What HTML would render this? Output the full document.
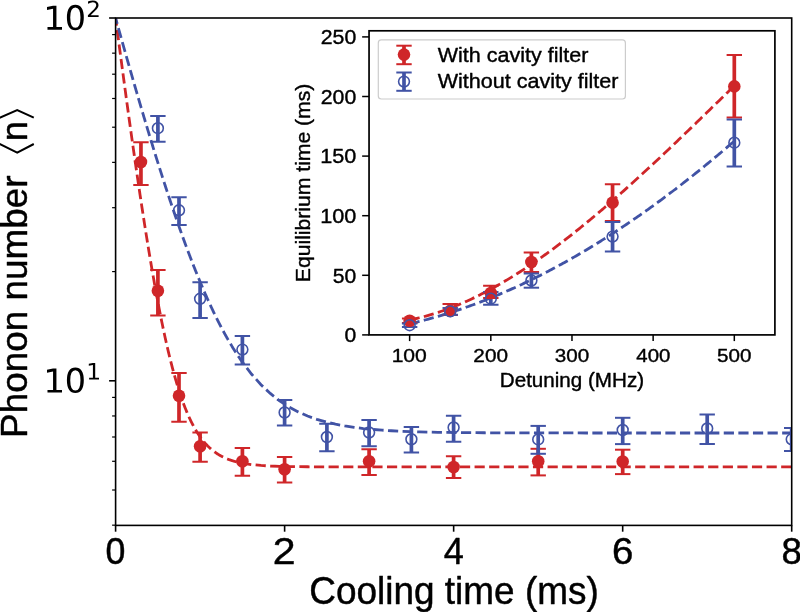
<!DOCTYPE html><html><head><meta charset="utf-8"><style>html,body{margin:0;padding:0;background:#fff;width:800px;height:612px;overflow:hidden}svg{display:block;will-change:transform}</style></head><body>
<svg width="800" height="612" viewBox="0 0 800 612">
<rect width="800" height="612" fill="#fff"/>
<defs><clipPath id="cm"><rect x="115.6" y="18.0" width="676.1" height="507.4"/></clipPath><clipPath id="ci"><rect x="369.05" y="30.8" width="405.84999999999997" height="304.09999999999997"/></clipPath></defs>
<g clip-path="url(#cm)">
<polyline points="115.60,18.00 115.92,20.43 116.24,22.85 116.55,25.27 116.87,27.69 117.19,30.10 117.51,32.52 117.82,34.93 118.14,37.33 118.46,39.74 118.78,42.14 119.09,44.54 119.41,46.94 119.73,49.33 120.05,51.73 120.37,54.12 120.68,56.50 121.00,58.89 121.32,61.27 121.64,63.64 121.95,66.02 122.27,68.39 122.59,70.76 122.91,73.12 123.23,75.49 123.54,77.85 123.86,80.20 124.18,82.55 124.50,84.90 124.81,87.25 125.13,89.59 125.45,91.93 125.77,94.26 126.08,96.60 126.40,98.92 126.72,101.25 127.04,103.57 127.36,105.89 127.67,108.20 127.99,110.51 128.31,112.81 128.63,115.11 128.94,117.41 129.26,119.71 129.58,121.99 129.90,124.28 130.21,126.56 130.53,128.84 130.85,131.11 131.17,133.37 131.49,135.64 131.80,137.90 132.12,140.15 132.44,142.40 132.76,144.64 133.07,146.88 133.39,149.12 133.71,151.35 134.03,153.57 134.35,155.80 134.66,158.01 134.98,160.22 135.30,162.43 135.62,164.63 135.93,166.82 136.25,169.01 136.57,171.19 136.89,173.37 137.20,175.54 137.52,177.71 137.84,179.87 138.16,182.03 138.48,184.18 138.79,186.32 139.11,188.46 139.43,190.59 139.75,192.72 140.06,194.84 140.38,196.96 140.70,199.06 141.02,201.17 141.34,203.26 141.65,205.35 141.97,207.43 142.29,209.51 142.61,211.58 142.92,213.64 143.24,215.70 143.56,217.74 143.88,219.79 144.19,221.82 144.51,223.85 144.83,225.87 145.15,227.89 145.47,229.89 145.78,231.89 146.10,233.88 146.42,235.87 146.74,237.85 147.05,239.82 147.37,241.78 147.69,243.73 148.01,245.68 148.32,247.62 148.64,249.55 148.96,251.47 149.28,253.39 149.60,255.29 149.91,257.19 150.23,259.08 150.55,260.97 150.87,262.84 151.18,264.71 151.50,266.56 151.82,268.41 152.14,270.25 152.46,272.09 152.77,273.91 153.09,275.72 153.41,277.53 153.73,279.33 154.04,281.11 154.36,282.89 154.68,284.66 155.00,286.42 155.31,288.17 155.63,289.92 155.95,291.65 156.27,293.37 156.59,295.09 156.90,296.79 157.22,298.49 157.54,300.18 157.86,301.85 158.17,303.52 158.49,305.18 158.81,306.82 159.13,308.46 159.44,310.09 159.76,311.71 160.08,313.32 160.40,314.92 160.72,316.51 161.03,318.08 161.35,319.65 161.67,321.21 161.99,322.76 162.30,324.30 162.62,325.83 162.94,327.35 163.26,328.85 163.58,330.35 163.89,331.84 164.21,333.32 164.53,334.78 164.85,336.24 165.16,337.69 165.48,339.12 165.80,340.55 166.12,341.96 166.43,343.37 166.75,344.76 167.07,346.15 167.39,347.52 167.71,348.88 168.02,350.24 168.34,351.58 168.66,352.91 168.98,354.23 169.29,355.54 169.61,356.84 169.93,358.13 170.25,359.41 170.56,360.68 170.88,361.93 171.20,363.18 171.52,364.42 171.84,365.65 172.15,366.86 172.47,368.07 172.79,369.26 173.11,370.45 173.42,371.62 173.74,372.78 174.06,373.94 174.38,375.08 174.70,376.21 175.01,377.33 175.33,378.44 175.65,379.54 175.97,380.64 176.28,381.72 176.60,382.79 176.92,383.85 177.24,384.90 177.55,385.94 177.87,386.97 178.19,387.99 178.51,389.00 178.83,390.00 179.14,390.99 179.46,391.97 179.78,392.93 180.10,393.89 180.41,394.84 180.73,395.79 181.05,396.72 181.37,397.64 181.68,398.55 182.00,399.45 182.32,400.34 182.64,401.22 182.96,402.10 183.27,402.96 183.59,403.82 183.91,404.66 184.23,405.50 184.54,406.32 184.86,407.14 185.18,407.95 185.50,408.75 185.82,409.54 186.13,410.32 186.45,411.09 186.77,411.86 187.09,412.61 187.40,413.36 187.72,414.10 188.04,414.82 188.36,415.54 188.67,416.26 188.99,416.96 189.31,417.66 189.63,418.34 189.95,419.02 190.26,419.69 190.58,420.36 190.90,421.01 191.22,421.66 191.53,422.30 191.85,422.93 192.17,423.55 192.49,424.17 192.81,424.77 193.12,425.37 193.44,425.97 193.76,426.55 194.08,427.13 194.39,427.70 194.71,428.27 195.03,428.82 195.35,429.37 195.66,429.91 195.98,430.45 196.30,430.98 196.62,431.50 196.94,432.01 197.25,432.52 197.57,433.02 197.89,433.52 198.21,434.01 198.52,434.49 198.84,434.96 199.16,435.43 199.48,435.90 199.79,436.35 200.11,436.81 200.43,437.25 200.75,437.69 201.07,438.12 201.38,438.55 201.70,438.97 202.02,439.39 202.34,439.80 202.65,440.20 202.97,440.60 203.29,440.99 203.61,441.38 203.93,441.76 204.24,442.14 204.56,442.51 204.88,442.88 205.20,443.24 205.51,443.60 205.83,443.95 206.15,444.29 206.47,444.64 206.78,444.97 207.10,445.30 207.42,445.63 207.74,445.96 208.06,446.27 208.37,446.59 208.69,446.90 209.01,447.20 209.33,447.50 209.64,447.80 209.96,448.09 210.28,448.38 210.60,448.66 210.91,448.94 211.23,449.22 211.55,449.49 211.87,449.76 212.19,450.02 212.50,450.28 212.82,450.53 213.14,450.79 213.46,451.04 213.77,451.28 214.09,451.52 214.41,451.76 214.73,451.99 215.05,452.22 215.36,452.45 215.68,452.68 216.00,452.90 216.32,453.11 216.63,453.33 216.95,453.54 217.27,453.75 217.59,453.95 217.90,454.15 218.22,454.35 218.54,454.55 218.86,454.74 219.18,454.93 219.49,455.12 219.81,455.30 220.13,455.48 220.45,455.66 220.76,455.84 221.08,456.01 221.40,456.18 221.72,456.35 222.03,456.51 222.35,456.68 222.67,456.84 222.99,457.00 223.31,457.15 223.62,457.31 223.94,457.46 224.26,457.60 224.58,457.75 224.89,457.90 225.21,458.04 225.53,458.18 225.85,458.31 226.17,458.45 226.48,458.58 226.80,458.72 227.12,458.84 227.44,458.97 227.75,459.10 228.07,459.22 228.39,459.34 228.71,459.46 229.02,459.58 229.34,459.70 229.66,459.81 229.98,459.92 230.30,460.03 230.61,460.14 230.93,460.25 231.25,460.36 231.57,460.46 231.88,460.56 232.20,460.66 232.52,460.76 232.84,460.86 233.15,460.96 233.47,461.05 233.79,461.14 234.11,461.23 234.43,461.32 234.74,461.41 235.06,461.50 235.38,461.59 235.70,461.67 236.01,461.76 236.33,461.84 236.65,461.92 236.97,462.00 237.29,462.08 237.60,462.15 237.92,462.23 238.24,462.30 238.56,462.38 238.87,462.45 239.19,462.52 239.51,462.59 239.83,462.66 240.14,462.73 240.46,462.79 240.78,462.86 241.10,462.92 241.42,462.99 241.73,463.05 242.05,463.11 242.37,463.17 251.68,464.58 260.99,465.46 270.30,466.01 279.61,466.35 288.92,466.56 298.23,466.69 307.54,466.77 316.85,466.82 326.17,466.85 335.48,466.87 344.79,466.88 354.10,466.89 363.41,466.89 372.72,466.90 382.03,466.90 391.34,466.90 400.65,466.90 409.96,466.90 419.27,466.90 428.58,466.90 437.89,466.90 447.20,466.90 456.51,466.90 465.83,466.90 475.14,466.90 484.45,466.90 493.76,466.90 503.07,466.90 512.38,466.90 521.69,466.90 531.00,466.90 540.31,466.90 549.62,466.90 558.93,466.90 568.24,466.90 577.55,466.90 586.86,466.90 596.18,466.90 605.49,466.90 614.80,466.90 624.11,466.90 633.42,466.90 642.73,466.90 652.04,466.90 661.35,466.90 670.66,466.90 679.97,466.90 689.28,466.90 698.59,466.90 707.90,466.90 717.21,466.90 726.53,466.90 735.84,466.90 745.15,466.90 754.46,466.90 763.77,466.90 773.08,466.90 782.39,466.90 791.70,466.90" fill="none" stroke="#cf2629" stroke-width="2.8" stroke-dasharray="10.2 4.4" stroke-dashoffset="2.5"/>
<polyline points="115.60,18.00 115.92,19.15 116.24,20.29 116.55,21.43 116.87,22.58 117.19,23.72 117.51,24.86 117.82,26.00 118.14,27.14 118.46,28.28 118.78,29.42 119.09,30.56 119.41,31.70 119.73,32.83 120.05,33.97 120.37,35.11 120.68,36.24 121.00,37.38 121.32,38.51 121.64,39.64 121.95,40.77 122.27,41.91 122.59,43.04 122.91,44.17 123.23,45.29 123.54,46.42 123.86,47.55 124.18,48.68 124.50,49.80 124.81,50.93 125.13,52.05 125.45,53.18 125.77,54.30 126.08,55.42 126.40,56.54 126.72,57.66 127.04,58.78 127.36,59.90 127.67,61.02 127.99,62.14 128.31,63.25 128.63,64.37 128.94,65.48 129.26,66.60 129.58,67.71 129.90,68.82 130.21,69.93 130.53,71.04 130.85,72.15 131.17,73.26 131.49,74.37 131.80,75.48 132.12,76.58 132.44,77.69 132.76,78.79 133.07,79.90 133.39,81.00 133.71,82.10 134.03,83.20 134.35,84.30 134.66,85.40 134.98,86.50 135.30,87.59 135.62,88.69 135.93,89.78 136.25,90.88 136.57,91.97 136.89,93.06 137.20,94.15 137.52,95.24 137.84,96.33 138.16,97.42 138.48,98.51 138.79,99.59 139.11,100.68 139.43,101.76 139.75,102.84 140.06,103.92 140.38,105.01 140.70,106.08 141.02,107.16 141.34,108.24 141.65,109.32 141.97,110.39 142.29,111.47 142.61,112.54 142.92,113.61 143.24,114.68 143.56,115.75 143.88,116.82 144.19,117.89 144.51,118.96 144.83,120.02 145.15,121.09 145.47,122.15 145.78,123.21 146.10,124.27 146.42,125.33 146.74,126.39 147.05,127.45 147.37,128.50 147.69,129.56 148.01,130.61 148.32,131.66 148.64,132.71 148.96,133.76 149.28,134.81 149.60,135.86 149.91,136.91 150.23,137.95 150.55,138.99 150.87,140.04 151.18,141.08 151.50,142.12 151.82,143.16 152.14,144.19 152.46,145.23 152.77,146.26 153.09,147.30 153.41,148.33 153.73,149.36 154.04,150.39 154.36,151.42 154.68,152.45 155.00,153.47 155.31,154.49 155.63,155.52 155.95,156.54 156.27,157.56 156.59,158.58 156.90,159.59 157.22,160.61 157.54,161.62 157.86,162.64 158.17,163.65 158.49,164.66 158.81,165.67 159.13,166.67 159.44,167.68 159.76,168.68 160.08,169.69 160.40,170.69 160.72,171.69 161.03,172.69 161.35,173.68 161.67,174.68 161.99,175.67 162.30,176.66 162.62,177.65 162.94,178.64 163.26,179.63 163.58,180.62 163.89,181.60 164.21,182.59 164.53,183.57 164.85,184.55 165.16,185.52 165.48,186.50 165.80,187.48 166.12,188.45 166.43,189.42 166.75,190.39 167.07,191.36 167.39,192.33 167.71,193.29 168.02,194.26 168.34,195.22 168.66,196.18 168.98,197.14 169.29,198.09 169.61,199.05 169.93,200.00 170.25,200.96 170.56,201.91 170.88,202.85 171.20,203.80 171.52,204.75 171.84,205.69 172.15,206.63 172.47,207.57 172.79,208.51 173.11,209.45 173.42,210.38 173.74,211.31 174.06,212.24 174.38,213.17 174.70,214.10 175.01,215.03 175.33,215.95 175.65,216.87 175.97,217.79 176.28,218.71 176.60,219.63 176.92,220.54 177.24,221.45 177.55,222.36 177.87,223.27 178.19,224.18 178.51,225.08 178.83,225.99 179.14,226.89 179.46,227.79 179.78,228.69 180.10,229.58 180.41,230.48 180.73,231.37 181.05,232.26 181.37,233.15 181.68,234.03 182.00,234.92 182.32,235.80 182.64,236.68 182.96,237.56 183.27,238.43 183.59,239.31 183.91,240.18 184.23,241.05 184.54,241.92 184.86,242.78 185.18,243.65 185.50,244.51 185.82,245.37 186.13,246.23 186.45,247.08 186.77,247.94 187.09,248.79 187.40,249.64 187.72,250.48 188.04,251.33 188.36,252.17 188.67,253.01 188.99,253.85 189.31,254.69 189.63,255.53 189.95,256.36 190.26,257.19 190.58,258.02 190.90,258.84 191.22,259.67 191.53,260.49 191.85,261.31 192.17,262.13 192.49,262.95 192.81,263.76 193.12,264.57 193.44,265.38 193.76,266.19 194.08,266.99 194.39,267.79 194.71,268.59 195.03,269.39 195.35,270.19 195.66,270.98 195.98,271.77 196.30,272.56 196.62,273.35 196.94,274.14 197.25,274.92 197.57,275.70 197.89,276.48 198.21,277.25 198.52,278.03 198.84,278.80 199.16,279.57 199.48,280.33 199.79,281.10 200.11,281.86 200.43,282.62 200.75,283.38 201.07,284.13 201.38,284.89 201.70,285.64 202.02,286.39 202.34,287.13 202.65,287.88 202.97,288.62 203.29,289.36 203.61,290.09 203.93,290.83 204.24,291.56 204.56,292.29 204.88,293.02 205.20,293.74 205.51,294.47 205.83,295.19 206.15,295.91 206.47,296.62 206.78,297.34 207.10,298.05 207.42,298.76 207.74,299.46 208.06,300.17 208.37,300.87 208.69,301.57 209.01,302.26 209.33,302.96 209.64,303.65 209.96,304.34 210.28,305.03 210.60,305.71 210.91,306.40 211.23,307.08 211.55,307.75 211.87,308.43 212.19,309.10 212.50,309.77 212.82,310.44 213.14,311.11 213.46,311.77 213.77,312.43 214.09,313.09 214.41,313.75 214.73,314.40 215.05,315.05 215.36,315.70 215.68,316.35 216.00,316.99 216.32,317.63 216.63,318.27 216.95,318.91 217.27,319.55 217.59,320.18 217.90,320.81 218.22,321.44 218.54,322.06 218.86,322.68 219.18,323.30 219.49,323.92 219.81,324.54 220.13,325.15 220.45,325.76 220.76,326.37 221.08,326.97 221.40,327.58 221.72,328.18 222.03,328.77 222.35,329.37 222.67,329.96 222.99,330.56 223.31,331.14 223.62,331.73 223.94,332.31 224.26,332.90 224.58,333.48 224.89,334.05 225.21,334.63 225.53,335.20 225.85,335.77 226.17,336.33 226.48,336.90 226.80,337.46 227.12,338.02 227.44,338.58 227.75,339.13 228.07,339.69 228.39,340.24 228.71,340.78 229.02,341.33 229.34,341.87 229.66,342.41 229.98,342.95 230.30,343.49 230.61,344.02 230.93,344.55 231.25,345.08 231.57,345.61 231.88,346.13 232.20,346.65 232.52,347.17 232.84,347.69 233.15,348.21 233.47,348.72 233.79,349.23 234.11,349.74 234.43,350.24 234.74,350.74 235.06,351.25 235.38,351.74 235.70,352.24 236.01,352.73 236.33,353.23 236.65,353.71 236.97,354.20 237.29,354.69 237.60,355.17 237.92,355.65 238.24,356.13 238.56,356.60 238.87,357.07 239.19,357.54 239.51,358.01 239.83,358.48 240.14,358.94 240.46,359.40 240.78,359.86 241.10,360.32 241.42,360.78 241.73,361.23 242.05,361.68 242.37,362.13 251.68,374.29 260.99,384.68 270.30,393.45 279.61,400.79 288.92,406.88 298.23,411.90 307.54,416.00 316.85,419.34 326.17,422.05 335.48,424.23 344.79,425.99 354.10,427.40 363.41,428.53 372.72,429.44 382.03,430.16 391.34,430.74 400.65,431.20 409.96,431.57 419.27,431.86 428.58,432.09 437.89,432.28 447.20,432.43 456.51,432.54 465.83,432.64 475.14,432.71 484.45,432.77 493.76,432.82 503.07,432.85 512.38,432.88 521.69,432.91 531.00,432.93 540.31,432.94 549.62,432.95 558.93,432.96 568.24,432.97 577.55,432.97 586.86,432.98 596.18,432.98 605.49,432.99 614.80,432.99 624.11,432.99 633.42,432.99 642.73,432.99 652.04,432.99 661.35,433.00 670.66,433.00 679.97,433.00 689.28,433.00 698.59,433.00 707.90,433.00 717.21,433.00 726.53,433.00 735.84,433.00 745.15,433.00 754.46,433.00 763.77,433.00 773.08,433.00 782.39,433.00 791.70,433.00" fill="none" stroke="#4153a5" stroke-width="2.8" stroke-dasharray="10.2 4.4" stroke-dashoffset="4.2"/>
<line x1="140.95" y1="142.2" x2="140.95" y2="185" stroke="#cf2629" stroke-width="3.7"/><line x1="133.25" y1="142.2" x2="148.65" y2="142.2" stroke="#cf2629" stroke-width="2.0"/><line x1="133.25" y1="185" x2="148.65" y2="185" stroke="#cf2629" stroke-width="2.0"/>
<line x1="157.9" y1="269.9" x2="157.9" y2="315.5" stroke="#cf2629" stroke-width="3.7"/><line x1="150.20" y1="269.9" x2="165.60" y2="269.9" stroke="#cf2629" stroke-width="2.0"/><line x1="150.20" y1="315.5" x2="165.60" y2="315.5" stroke="#cf2629" stroke-width="2.0"/>
<line x1="179" y1="373" x2="179" y2="421.75" stroke="#cf2629" stroke-width="3.7"/><line x1="171.30" y1="373" x2="186.70" y2="373" stroke="#cf2629" stroke-width="2.0"/><line x1="171.30" y1="421.75" x2="186.70" y2="421.75" stroke="#cf2629" stroke-width="2.0"/>
<line x1="200.1" y1="432.5" x2="200.1" y2="461.75" stroke="#cf2629" stroke-width="3.7"/><line x1="192.40" y1="432.5" x2="207.80" y2="432.5" stroke="#cf2629" stroke-width="2.0"/><line x1="192.40" y1="461.75" x2="207.80" y2="461.75" stroke="#cf2629" stroke-width="2.0"/>
<line x1="242.4" y1="448" x2="242.4" y2="475.75" stroke="#cf2629" stroke-width="3.7"/><line x1="234.70" y1="448" x2="250.10" y2="448" stroke="#cf2629" stroke-width="2.0"/><line x1="234.70" y1="475.75" x2="250.10" y2="475.75" stroke="#cf2629" stroke-width="2.0"/>
<line x1="284.6" y1="457" x2="284.6" y2="482.5" stroke="#cf2629" stroke-width="3.7"/><line x1="276.90" y1="457" x2="292.30" y2="457" stroke="#cf2629" stroke-width="2.0"/><line x1="276.90" y1="482.5" x2="292.30" y2="482.5" stroke="#cf2629" stroke-width="2.0"/>
<line x1="369.1" y1="449.25" x2="369.1" y2="475" stroke="#cf2629" stroke-width="3.7"/><line x1="361.40" y1="449.25" x2="376.80" y2="449.25" stroke="#cf2629" stroke-width="2.0"/><line x1="361.40" y1="475" x2="376.80" y2="475" stroke="#cf2629" stroke-width="2.0"/>
<line x1="453.6" y1="456.25" x2="453.6" y2="478" stroke="#cf2629" stroke-width="3.7"/><line x1="445.90" y1="456.25" x2="461.30" y2="456.25" stroke="#cf2629" stroke-width="2.0"/><line x1="445.90" y1="478" x2="461.30" y2="478" stroke="#cf2629" stroke-width="2.0"/>
<line x1="538.2" y1="448.8" x2="538.2" y2="475.4" stroke="#cf2629" stroke-width="3.7"/><line x1="530.50" y1="448.8" x2="545.90" y2="448.8" stroke="#cf2629" stroke-width="2.0"/><line x1="530.50" y1="475.4" x2="545.90" y2="475.4" stroke="#cf2629" stroke-width="2.0"/>
<line x1="622.7" y1="449.7" x2="622.7" y2="474.1" stroke="#cf2629" stroke-width="3.7"/><line x1="615.00" y1="449.7" x2="630.40" y2="449.7" stroke="#cf2629" stroke-width="2.0"/><line x1="615.00" y1="474.1" x2="630.40" y2="474.1" stroke="#cf2629" stroke-width="2.0"/>
<line x1="157.9" y1="115.9" x2="157.9" y2="141.7" stroke="#4153a5" stroke-width="3.7"/><line x1="150.20" y1="115.9" x2="165.60" y2="115.9" stroke="#4153a5" stroke-width="2.0"/><line x1="150.20" y1="141.7" x2="165.60" y2="141.7" stroke="#4153a5" stroke-width="2.0"/>
<line x1="179" y1="197.3" x2="179" y2="225" stroke="#4153a5" stroke-width="3.7"/><line x1="171.30" y1="197.3" x2="186.70" y2="197.3" stroke="#4153a5" stroke-width="2.0"/><line x1="171.30" y1="225" x2="186.70" y2="225" stroke="#4153a5" stroke-width="2.0"/>
<line x1="200.1" y1="282.2" x2="200.1" y2="317.9" stroke="#4153a5" stroke-width="3.7"/><line x1="192.40" y1="282.2" x2="207.80" y2="282.2" stroke="#4153a5" stroke-width="2.0"/><line x1="192.40" y1="317.9" x2="207.80" y2="317.9" stroke="#4153a5" stroke-width="2.0"/>
<line x1="242.4" y1="336" x2="242.4" y2="364.5" stroke="#4153a5" stroke-width="3.7"/><line x1="234.70" y1="336" x2="250.10" y2="336" stroke="#4153a5" stroke-width="2.0"/><line x1="234.70" y1="364.5" x2="250.10" y2="364.5" stroke="#4153a5" stroke-width="2.0"/>
<line x1="284.6" y1="400" x2="284.6" y2="425.5" stroke="#4153a5" stroke-width="3.7"/><line x1="276.90" y1="400" x2="292.30" y2="400" stroke="#4153a5" stroke-width="2.0"/><line x1="276.90" y1="425.5" x2="292.30" y2="425.5" stroke="#4153a5" stroke-width="2.0"/>
<line x1="326.9" y1="423.75" x2="326.9" y2="451.25" stroke="#4153a5" stroke-width="3.7"/><line x1="319.20" y1="423.75" x2="334.60" y2="423.75" stroke="#4153a5" stroke-width="2.0"/><line x1="319.20" y1="451.25" x2="334.60" y2="451.25" stroke="#4153a5" stroke-width="2.0"/>
<line x1="369.1" y1="420" x2="369.1" y2="446.25" stroke="#4153a5" stroke-width="3.7"/><line x1="361.40" y1="420" x2="376.80" y2="420" stroke="#4153a5" stroke-width="2.0"/><line x1="361.40" y1="446.25" x2="376.80" y2="446.25" stroke="#4153a5" stroke-width="2.0"/>
<line x1="411.4" y1="427" x2="411.4" y2="452.5" stroke="#4153a5" stroke-width="3.7"/><line x1="403.70" y1="427" x2="419.10" y2="427" stroke="#4153a5" stroke-width="2.0"/><line x1="403.70" y1="452.5" x2="419.10" y2="452.5" stroke="#4153a5" stroke-width="2.0"/>
<line x1="453.6" y1="415.75" x2="453.6" y2="441.75" stroke="#4153a5" stroke-width="3.7"/><line x1="445.90" y1="415.75" x2="461.30" y2="415.75" stroke="#4153a5" stroke-width="2.0"/><line x1="445.90" y1="441.75" x2="461.30" y2="441.75" stroke="#4153a5" stroke-width="2.0"/>
<line x1="538.2" y1="425.9" x2="538.2" y2="453.8" stroke="#4153a5" stroke-width="3.7"/><line x1="530.50" y1="425.9" x2="545.90" y2="425.9" stroke="#4153a5" stroke-width="2.0"/><line x1="530.50" y1="453.8" x2="545.90" y2="453.8" stroke="#4153a5" stroke-width="2.0"/>
<line x1="622.7" y1="417.8" x2="622.7" y2="444.1" stroke="#4153a5" stroke-width="3.7"/><line x1="615.00" y1="417.8" x2="630.40" y2="417.8" stroke="#4153a5" stroke-width="2.0"/><line x1="615.00" y1="444.1" x2="630.40" y2="444.1" stroke="#4153a5" stroke-width="2.0"/>
<line x1="707.2" y1="414.5" x2="707.2" y2="444" stroke="#4153a5" stroke-width="3.7"/><line x1="699.50" y1="414.5" x2="714.90" y2="414.5" stroke="#4153a5" stroke-width="2.0"/><line x1="699.50" y1="444" x2="714.90" y2="444" stroke="#4153a5" stroke-width="2.0"/>
<line x1="791.7" y1="428" x2="791.7" y2="451" stroke="#4153a5" stroke-width="3.7"/><line x1="784.00" y1="428" x2="799.40" y2="428" stroke="#4153a5" stroke-width="2.0"/><line x1="784.00" y1="451" x2="799.40" y2="451" stroke="#4153a5" stroke-width="2.0"/>
<circle cx="140.95" cy="162" r="6.3" fill="#cf2629"/>
<circle cx="157.9" cy="290.7" r="6.3" fill="#cf2629"/>
<circle cx="179" cy="395.75" r="6.3" fill="#cf2629"/>
<circle cx="200.1" cy="446.25" r="6.3" fill="#cf2629"/>
<circle cx="242.4" cy="461.25" r="6.3" fill="#cf2629"/>
<circle cx="284.6" cy="469.25" r="6.3" fill="#cf2629"/>
<circle cx="369.1" cy="461.25" r="6.3" fill="#cf2629"/>
<circle cx="453.6" cy="467" r="6.3" fill="#cf2629"/>
<circle cx="538.2" cy="461.3" r="6.3" fill="#cf2629"/>
<circle cx="622.7" cy="461.5" r="6.3" fill="#cf2629"/>
<circle cx="157.9" cy="128.2" r="5.4" fill="none" stroke="#4153a5" stroke-width="1.6"/>
<circle cx="179" cy="210.3" r="5.4" fill="none" stroke="#4153a5" stroke-width="1.6"/>
<circle cx="200.1" cy="298.8" r="5.4" fill="none" stroke="#4153a5" stroke-width="1.6"/>
<circle cx="242.4" cy="349.6" r="5.4" fill="none" stroke="#4153a5" stroke-width="1.6"/>
<circle cx="284.6" cy="412.5" r="5.4" fill="none" stroke="#4153a5" stroke-width="1.6"/>
<circle cx="326.9" cy="437" r="5.4" fill="none" stroke="#4153a5" stroke-width="1.6"/>
<circle cx="369.1" cy="432.5" r="5.4" fill="none" stroke="#4153a5" stroke-width="1.6"/>
<circle cx="411.4" cy="439.25" r="5.4" fill="none" stroke="#4153a5" stroke-width="1.6"/>
<circle cx="453.6" cy="427.5" r="5.4" fill="none" stroke="#4153a5" stroke-width="1.6"/>
<circle cx="538.2" cy="439.4" r="5.4" fill="none" stroke="#4153a5" stroke-width="1.6"/>
<circle cx="622.7" cy="430" r="5.4" fill="none" stroke="#4153a5" stroke-width="1.6"/>
<circle cx="707.2" cy="428.5" r="5.4" fill="none" stroke="#4153a5" stroke-width="1.6"/>
<circle cx="791.7" cy="439.3" r="5.4" fill="none" stroke="#4153a5" stroke-width="1.6"/>
</g>
<rect x="115.6" y="18.0" width="676.10" height="507.40" fill="none" stroke="#000" stroke-width="1.6"/>
<line x1="115.60" y1="525.4" x2="115.60" y2="531.6999999999999" stroke="#000" stroke-width="1.6"/>
<line x1="284.62" y1="525.4" x2="284.62" y2="531.6999999999999" stroke="#000" stroke-width="1.6"/>
<line x1="453.65" y1="525.4" x2="453.65" y2="531.6999999999999" stroke="#000" stroke-width="1.6"/>
<line x1="622.68" y1="525.4" x2="622.68" y2="531.6999999999999" stroke="#000" stroke-width="1.6"/>
<line x1="791.70" y1="525.4" x2="791.70" y2="531.6999999999999" stroke="#000" stroke-width="1.6"/>
<line x1="109.1" y1="18.00" x2="115.6" y2="18.00" stroke="#000" stroke-width="1.6"/>
<line x1="109.1" y1="380.80" x2="115.6" y2="380.80" stroke="#000" stroke-width="1.6"/>
<line x1="112.1" y1="271.59" x2="115.6" y2="271.59" stroke="#000" stroke-width="1.2"/>
<line x1="112.1" y1="207.70" x2="115.6" y2="207.70" stroke="#000" stroke-width="1.2"/>
<line x1="112.1" y1="162.37" x2="115.6" y2="162.37" stroke="#000" stroke-width="1.2"/>
<line x1="112.1" y1="127.21" x2="115.6" y2="127.21" stroke="#000" stroke-width="1.2"/>
<line x1="112.1" y1="98.49" x2="115.6" y2="98.49" stroke="#000" stroke-width="1.2"/>
<line x1="112.1" y1="74.20" x2="115.6" y2="74.20" stroke="#000" stroke-width="1.2"/>
<line x1="112.1" y1="53.16" x2="115.6" y2="53.16" stroke="#000" stroke-width="1.2"/>
<line x1="112.1" y1="34.60" x2="115.6" y2="34.60" stroke="#000" stroke-width="1.2"/>
<line x1="112.1" y1="525.17" x2="115.6" y2="525.17" stroke="#000" stroke-width="1.2"/>
<line x1="112.1" y1="490.01" x2="115.6" y2="490.01" stroke="#000" stroke-width="1.2"/>
<line x1="112.1" y1="461.29" x2="115.6" y2="461.29" stroke="#000" stroke-width="1.2"/>
<line x1="112.1" y1="437.00" x2="115.6" y2="437.00" stroke="#000" stroke-width="1.2"/>
<line x1="112.1" y1="415.96" x2="115.6" y2="415.96" stroke="#000" stroke-width="1.2"/>
<line x1="112.1" y1="397.40" x2="115.6" y2="397.40" stroke="#000" stroke-width="1.2"/>
<path transform="matrix(0.01687 0 0 -0.01612 43.204 29.800)" d="M254 166H584V1305L225 1233V1417L582 1489H784V166H1114V0H254Z"/>
<path transform="matrix(0.01638 0 0 -0.01646 64.689 29.823)" d="M651 1360Q495 1360 417 1207Q339 1053 339 745Q339 438 417 284Q495 131 651 131Q808 131 886 284Q964 438 964 745Q964 1053 886 1207Q808 1360 651 1360ZM651 1520Q902 1520 1034 1322Q1167 1124 1167 745Q1167 367 1034 169Q902 -29 651 -29Q400 -29 267 169Q135 367 135 745Q135 1124 267 1322Q400 1520 651 1520Z"/>
<path transform="matrix(0.01129 0 0 -0.01102 86.207 17.100)" d="M393 166H1098V0H150V166Q265 285 463 485Q662 686 713 744Q810 853 848 928Q887 1004 887 1077Q887 1196 803 1271Q720 1346 586 1346Q491 1346 385 1313Q280 1280 160 1213V1417Q282 1466 388 1491Q494 1516 582 1516Q814 1516 952 1400Q1090 1284 1090 1090Q1090 998 1055 915Q1021 833 930 721Q905 692 771 553Q637 415 393 166Z"/>
<path transform="matrix(0.01687 0 0 -0.01612 43.204 392.600)" d="M254 166H584V1305L225 1233V1417L582 1489H784V166H1114V0H254Z"/>
<path transform="matrix(0.01638 0 0 -0.01646 64.689 392.623)" d="M651 1360Q495 1360 417 1207Q339 1053 339 745Q339 438 417 284Q495 131 651 131Q808 131 886 284Q964 438 964 745Q964 1053 886 1207Q808 1360 651 1360ZM651 1520Q902 1520 1034 1322Q1167 1124 1167 745Q1167 367 1034 169Q902 -29 651 -29Q400 -29 267 169Q135 367 135 745Q135 1124 267 1322Q400 1520 651 1520Z"/>
<path transform="matrix(0.01147 0 0 -0.01108 86.218 379.500)" d="M254 166H584V1305L225 1233V1417L582 1489H784V166H1114V0H254Z"/>
<polyline points="-2,118.6 17.2,110.1 33.8,117.7" fill="none" stroke="#000" stroke-width="2"/>
<polyline points="-2,143.2 17.2,152.6 33.8,144" fill="none" stroke="#000" stroke-width="2"/>
<rect x="369.05" y="30.8" width="405.85" height="304.10" fill="#fff"/>
<g clip-path="url(#ci)">
<polyline points="409.63,319.90 411.27,319.57 412.90,319.23 414.53,318.88 416.16,318.51 417.79,318.14 419.42,317.74 421.06,317.34 422.69,316.92 424.32,316.49 425.95,316.05 427.58,315.60 429.21,315.13 430.85,314.65 432.48,314.16 434.11,313.66 435.74,313.15 437.37,312.62 439.00,312.08 440.63,311.53 442.27,310.97 443.90,310.39 445.53,309.81 447.16,309.21 448.79,308.60 450.42,307.98 452.06,307.35 453.69,306.71 455.32,306.05 456.95,305.39 458.58,304.71 460.21,304.02 461.84,303.33 463.48,302.62 465.11,301.90 466.74,301.17 468.37,300.42 470.00,299.67 471.63,298.91 473.27,298.14 474.90,297.35 476.53,296.56 478.16,295.75 479.79,294.94 481.42,294.12 483.06,293.28 484.69,292.44 486.32,291.58 487.95,290.72 489.58,289.84 491.21,288.96 492.84,288.06 494.48,287.16 496.11,286.25 497.74,285.32 499.37,284.39 501.00,283.45 502.63,282.50 504.27,281.54 505.90,280.57 507.53,279.59 509.16,278.61 510.79,277.61 512.42,276.61 514.05,275.59 515.69,274.57 517.32,273.54 518.95,272.50 520.58,271.45 522.21,270.39 523.84,269.33 525.48,268.25 527.11,267.17 528.74,266.08 530.37,264.98 532.00,263.88 533.63,262.76 535.26,261.64 536.90,260.51 538.53,259.37 540.16,258.23 541.79,257.07 543.42,255.91 545.05,254.74 546.69,253.57 548.32,252.38 549.95,251.19 551.58,249.99 553.21,248.79 554.84,247.58 556.48,246.36 558.11,245.13 559.74,243.90 561.37,242.66 563.00,241.41 564.63,240.15 566.26,238.89 567.90,237.63 569.53,236.35 571.16,235.07 572.79,233.79 574.42,232.49 576.05,231.19 577.69,229.89 579.32,228.58 580.95,227.26 582.58,225.93 584.21,224.60 585.84,223.27 587.47,221.93 589.11,220.58 590.74,219.23 592.37,217.87 594.00,216.51 595.63,215.14 597.26,213.76 598.90,212.38 600.53,211.00 602.16,209.60 603.79,208.21 605.42,206.81 607.05,205.40 608.69,203.99 610.32,202.58 611.95,201.15 613.58,199.73 615.21,198.30 616.84,196.86 618.47,195.43 620.11,193.98 621.74,192.53 623.37,191.08 625.00,189.63 626.63,188.16 628.26,186.70 629.90,185.23 631.53,183.76 633.16,182.28 634.79,180.80 636.42,179.32 638.05,177.83 639.68,176.34 641.32,174.84 642.95,173.34 644.58,171.84 646.21,170.33 647.84,168.82 649.47,167.31 651.11,165.79 652.74,164.28 654.37,162.75 656.00,161.23 657.63,159.70 659.26,158.17 660.89,156.64 662.53,155.10 664.16,153.56 665.79,152.02 667.42,150.48 669.05,148.93 670.68,147.38 672.32,145.83 673.95,144.28 675.58,142.72 677.21,141.16 678.84,139.60 680.47,138.04 682.11,136.48 683.74,134.91 685.37,133.34 687.00,131.77 688.63,130.20 690.26,128.63 691.89,127.06 693.53,125.48 695.16,123.90 696.79,122.33 698.42,120.75 700.05,119.17 701.68,117.59 703.32,116.00 704.95,114.42 706.58,112.83 708.21,111.25 709.84,109.66 711.47,108.08 713.10,106.49 714.74,104.90 716.37,103.31 718.00,101.72 719.63,100.13 721.26,98.54 722.89,96.95 724.53,95.36 726.16,93.77 727.79,92.18 729.42,90.59 731.05,89.00 732.68,87.41 734.31,85.82" fill="none" stroke="#cf2629" stroke-width="2.8" stroke-dasharray="10.2 4.4"/>
<polyline points="409.63,323.82 411.27,323.44 412.90,323.05 414.53,322.66 416.16,322.26 417.79,321.86 419.42,321.45 421.06,321.03 422.69,320.61 424.32,320.18 425.95,319.75 427.58,319.31 429.21,318.87 430.85,318.42 432.48,317.96 434.11,317.50 435.74,317.03 437.37,316.55 439.00,316.07 440.63,315.59 442.27,315.10 443.90,314.60 445.53,314.10 447.16,313.59 448.79,313.08 450.42,312.56 452.06,312.03 453.69,311.50 455.32,310.96 456.95,310.42 458.58,309.87 460.21,309.32 461.84,308.76 463.48,308.20 465.11,307.63 466.74,307.05 468.37,306.47 470.00,305.88 471.63,305.29 473.27,304.69 474.90,304.08 476.53,303.47 478.16,302.86 479.79,302.24 481.42,301.61 483.06,300.98 484.69,300.34 486.32,299.70 487.95,299.05 489.58,298.39 491.21,297.73 492.84,297.07 494.48,296.40 496.11,295.72 497.74,295.04 499.37,294.35 501.00,293.66 502.63,292.96 504.27,292.25 505.90,291.54 507.53,290.83 509.16,290.11 510.79,289.38 512.42,288.65 514.05,287.91 515.69,287.17 517.32,286.42 518.95,285.67 520.58,284.91 522.21,284.15 523.84,283.38 525.48,282.60 527.11,281.82 528.74,281.04 530.37,280.24 532.00,279.45 533.63,278.65 535.26,277.84 536.90,277.03 538.53,276.21 540.16,275.38 541.79,274.56 543.42,273.72 545.05,272.88 546.69,272.04 548.32,271.19 549.95,270.33 551.58,269.47 553.21,268.61 554.84,267.73 556.48,266.86 558.11,265.98 559.74,265.09 561.37,264.20 563.00,263.30 564.63,262.40 566.26,261.49 567.90,260.57 569.53,259.66 571.16,258.73 572.79,257.80 574.42,256.87 576.05,255.93 577.69,254.98 579.32,254.03 580.95,253.08 582.58,252.12 584.21,251.15 585.84,250.18 587.47,249.21 589.11,248.23 590.74,247.24 592.37,246.25 594.00,245.25 595.63,244.25 597.26,243.24 598.90,242.23 600.53,241.22 602.16,240.19 603.79,239.17 605.42,238.13 607.05,237.10 608.69,236.05 610.32,235.01 611.95,233.95 613.58,232.90 615.21,231.83 616.84,230.77 618.47,229.69 620.11,228.62 621.74,227.53 623.37,226.45 625.00,225.35 626.63,224.25 628.26,223.15 629.90,222.04 631.53,220.93 633.16,219.81 634.79,218.69 636.42,217.56 638.05,216.43 639.68,215.29 641.32,214.15 642.95,213.00 644.58,211.85 646.21,210.69 647.84,209.53 649.47,208.36 651.11,207.19 652.74,206.01 654.37,204.83 656.00,203.64 657.63,202.45 659.26,201.25 660.89,200.05 662.53,198.85 664.16,197.63 665.79,196.42 667.42,195.20 669.05,193.97 670.68,192.74 672.32,191.50 673.95,190.26 675.58,189.02 677.21,187.77 678.84,186.51 680.47,185.25 682.11,183.99 683.74,182.72 685.37,181.45 687.00,180.17 688.63,178.88 690.26,177.60 691.89,176.30 693.53,175.00 695.16,173.70 696.79,172.39 698.42,171.08 700.05,169.77 701.68,168.44 703.32,167.12 704.95,165.79 706.58,164.45 708.21,163.11 709.84,161.77 711.47,160.42 713.10,159.06 714.74,157.70 716.37,156.34 718.00,154.97 719.63,153.60 721.26,152.22 722.89,150.84 724.53,149.45 726.16,148.06 727.79,146.66 729.42,145.26 731.05,143.86 732.68,142.45 734.31,141.03" fill="none" stroke="#4153a5" stroke-width="2.8" stroke-dasharray="10.2 4.4"/>
<line x1="409.63" y1="318.5" x2="409.63" y2="323" stroke="#cf2629" stroke-width="3.7"/><line x1="401.93" y1="318.5" x2="417.33" y2="318.5" stroke="#cf2629" stroke-width="2.0"/><line x1="401.93" y1="323" x2="417.33" y2="323" stroke="#cf2629" stroke-width="2.0"/>
<line x1="450.22" y1="304" x2="450.22" y2="315" stroke="#cf2629" stroke-width="3.7"/><line x1="442.52" y1="304" x2="457.92" y2="304" stroke="#cf2629" stroke-width="2.0"/><line x1="442.52" y1="315" x2="457.92" y2="315" stroke="#cf2629" stroke-width="2.0"/>
<line x1="490.81" y1="285.8" x2="490.81" y2="298" stroke="#cf2629" stroke-width="3.7"/><line x1="483.11" y1="285.8" x2="498.51" y2="285.8" stroke="#cf2629" stroke-width="2.0"/><line x1="483.11" y1="298" x2="498.51" y2="298" stroke="#cf2629" stroke-width="2.0"/>
<line x1="531.39" y1="252.5" x2="531.39" y2="272" stroke="#cf2629" stroke-width="3.7"/><line x1="523.69" y1="252.5" x2="539.09" y2="252.5" stroke="#cf2629" stroke-width="2.0"/><line x1="523.69" y1="272" x2="539.09" y2="272" stroke="#cf2629" stroke-width="2.0"/>
<line x1="612.56" y1="184.2" x2="612.56" y2="221.1" stroke="#cf2629" stroke-width="3.7"/><line x1="604.86" y1="184.2" x2="620.26" y2="184.2" stroke="#cf2629" stroke-width="2.0"/><line x1="604.86" y1="221.1" x2="620.26" y2="221.1" stroke="#cf2629" stroke-width="2.0"/>
<line x1="734.31" y1="55" x2="734.31" y2="117.5" stroke="#cf2629" stroke-width="3.7"/><line x1="726.61" y1="55" x2="742.01" y2="55" stroke="#cf2629" stroke-width="2.0"/><line x1="726.61" y1="117.5" x2="742.01" y2="117.5" stroke="#cf2629" stroke-width="2.0"/>
<line x1="409.63" y1="323.5" x2="409.63" y2="327" stroke="#4153a5" stroke-width="3.7"/><line x1="401.93" y1="323.5" x2="417.33" y2="323.5" stroke="#4153a5" stroke-width="2.0"/><line x1="401.93" y1="327" x2="417.33" y2="327" stroke="#4153a5" stroke-width="2.0"/>
<line x1="450.22" y1="308" x2="450.22" y2="314.7" stroke="#4153a5" stroke-width="3.7"/><line x1="442.52" y1="308" x2="457.92" y2="308" stroke="#4153a5" stroke-width="2.0"/><line x1="442.52" y1="314.7" x2="457.92" y2="314.7" stroke="#4153a5" stroke-width="2.0"/>
<line x1="490.81" y1="292" x2="490.81" y2="304.7" stroke="#4153a5" stroke-width="3.7"/><line x1="483.11" y1="292" x2="498.51" y2="292" stroke="#4153a5" stroke-width="2.0"/><line x1="483.11" y1="304.7" x2="498.51" y2="304.7" stroke="#4153a5" stroke-width="2.0"/>
<line x1="531.39" y1="273.5" x2="531.39" y2="287.7" stroke="#4153a5" stroke-width="3.7"/><line x1="523.69" y1="273.5" x2="539.09" y2="273.5" stroke="#4153a5" stroke-width="2.0"/><line x1="523.69" y1="287.7" x2="539.09" y2="287.7" stroke="#4153a5" stroke-width="2.0"/>
<line x1="612.56" y1="221.9" x2="612.56" y2="251.6" stroke="#4153a5" stroke-width="3.7"/><line x1="604.86" y1="221.9" x2="620.26" y2="221.9" stroke="#4153a5" stroke-width="2.0"/><line x1="604.86" y1="251.6" x2="620.26" y2="251.6" stroke="#4153a5" stroke-width="2.0"/>
<line x1="734.31" y1="119.5" x2="734.31" y2="166.6" stroke="#4153a5" stroke-width="3.7"/><line x1="726.61" y1="119.5" x2="742.01" y2="119.5" stroke="#4153a5" stroke-width="2.0"/><line x1="726.61" y1="166.6" x2="742.01" y2="166.6" stroke="#4153a5" stroke-width="2.0"/>
<circle cx="409.63" cy="320.7" r="6.3" fill="#cf2629"/>
<circle cx="450.22" cy="310.9" r="6.3" fill="#cf2629"/>
<circle cx="490.81" cy="293" r="6.3" fill="#cf2629"/>
<circle cx="531.39" cy="262" r="6.3" fill="#cf2629"/>
<circle cx="612.56" cy="202.65" r="6.3" fill="#cf2629"/>
<circle cx="734.31" cy="86.4" r="6.3" fill="#cf2629"/>
<circle cx="409.63" cy="325.2" r="5.4" fill="none" stroke="#4153a5" stroke-width="1.6"/>
<circle cx="450.22" cy="311.4" r="5.4" fill="none" stroke="#4153a5" stroke-width="1.6"/>
<circle cx="490.81" cy="298.7" r="5.4" fill="none" stroke="#4153a5" stroke-width="1.6"/>
<circle cx="531.39" cy="280.5" r="5.4" fill="none" stroke="#4153a5" stroke-width="1.6"/>
<circle cx="612.56" cy="236.6" r="5.4" fill="none" stroke="#4153a5" stroke-width="1.6"/>
<circle cx="734.31" cy="142.7" r="5.4" fill="none" stroke="#4153a5" stroke-width="1.6"/>
</g>
<rect x="369.05" y="30.8" width="405.85" height="304.10" fill="none" stroke="#000" stroke-width="1.7"/>
<line x1="409.63" y1="334.9" x2="409.63" y2="341.09999999999997" stroke="#000" stroke-width="1.5"/>
<line x1="490.81" y1="334.9" x2="490.81" y2="341.09999999999997" stroke="#000" stroke-width="1.5"/>
<line x1="571.98" y1="334.9" x2="571.98" y2="341.09999999999997" stroke="#000" stroke-width="1.5"/>
<line x1="653.14" y1="334.9" x2="653.14" y2="341.09999999999997" stroke="#000" stroke-width="1.5"/>
<line x1="734.31" y1="334.9" x2="734.31" y2="341.09999999999997" stroke="#000" stroke-width="1.5"/>
<line x1="362.15000000000003" y1="334.90" x2="369.05" y2="334.90" stroke="#000" stroke-width="1.5"/>
<line x1="362.15000000000003" y1="275.30" x2="369.05" y2="275.30" stroke="#000" stroke-width="1.5"/>
<line x1="362.15000000000003" y1="215.70" x2="369.05" y2="215.70" stroke="#000" stroke-width="1.5"/>
<line x1="362.15000000000003" y1="156.10" x2="369.05" y2="156.10" stroke="#000" stroke-width="1.5"/>
<line x1="362.15000000000003" y1="96.50" x2="369.05" y2="96.50" stroke="#000" stroke-width="1.5"/>
<line x1="362.15000000000003" y1="36.90" x2="369.05" y2="36.90" stroke="#000" stroke-width="1.5"/>
<rect x="378.3" y="39.9" width="247.1" height="59.1" rx="3" fill="#fff" fill-opacity="0.8" stroke="#cccccc" stroke-width="1.2"/>
<line x1="404" y1="45.7" x2="404" y2="64.2" stroke="#cf2629" stroke-width="3.7"/><line x1="396.30" y1="45.7" x2="411.70" y2="45.7" stroke="#cf2629" stroke-width="2.0"/><line x1="396.30" y1="64.2" x2="411.70" y2="64.2" stroke="#cf2629" stroke-width="2.0"/><circle cx="404" cy="54.6" r="6.3" fill="#cf2629"/>
<line x1="404" y1="72.5" x2="404" y2="90.8" stroke="#4153a5" stroke-width="3.7"/><line x1="396.30" y1="72.5" x2="411.70" y2="72.5" stroke="#4153a5" stroke-width="2.0"/><line x1="396.30" y1="90.8" x2="411.70" y2="90.8" stroke="#4153a5" stroke-width="2.0"/><circle cx="404" cy="81.6" r="5.4" fill="none" stroke="#4153a5" stroke-width="1.6"/>
<g style="font-family:&quot;Liberation Sans&quot;,sans-serif;font-size:2048px;font-kerning:none;font-variant-ligatures:none;" fill="#000" stroke="#000" stroke-linejoin="round"><text transform="matrix(0.017467 0 0 0.017601 105.603 563.700)" x="0" y="0" stroke-width="25.66">0</text><text transform="matrix(0.020043 0 0 0.017601 272.736 563.700)" x="0" y="0" stroke-width="23.91">2</text><text transform="matrix(0.017636 0 0 0.017601 443.671 563.700)" x="0" y="0" stroke-width="25.54">4</text><text transform="matrix(0.018730 0 0 0.017601 612.052 563.700)" x="0" y="0" stroke-width="24.77">6</text><text transform="matrix(0.017898 0 0 0.017601 781.507 563.700)" x="0" y="0" stroke-width="25.35">8</text><text transform="matrix(0.018037 0 0 0.018681 309.374 604.400)" x="0" y="0" stroke-width="24.51">Cooling time (ms)</text><g transform="translate(26.5,434.9) rotate(-90)"><text transform="matrix(0.018014 0 0 0.018472 -3.026 0.000)" x="0" y="0" stroke-width="24.67">Phonon number</text></g><g transform="translate(26.5,434.9) rotate(-90)"><text transform="matrix(0.017701 0 0 0.018115 293.593 0.000)" x="0" y="0" stroke-width="25.13">n</text></g><text transform="matrix(0.010311 0 0 0.009013 391.626 361.800)" x="0" y="0" stroke-width="41.40">100</text><text transform="matrix(0.010142 0 0 0.009013 473.360 361.800)" x="0" y="0" stroke-width="41.76">200</text><text transform="matrix(0.010064 0 0 0.009013 554.790 361.800)" x="0" y="0" stroke-width="41.93">300</text><text transform="matrix(0.009970 0 0 0.009013 636.276 361.800)" x="0" y="0" stroke-width="42.14">400</text><text transform="matrix(0.010077 0 0 0.009013 717.089 361.800)" x="0" y="0" stroke-width="41.91">500</text><text transform="matrix(0.010317 0 0 0.009439 344.475 342.100)" x="0" y="0" stroke-width="40.49">0</text><text transform="matrix(0.010302 0 0 0.009439 332.755 282.500)" x="0" y="0" stroke-width="40.52">50</text><text transform="matrix(0.010563 0 0 0.009439 320.152 222.900)" x="0" y="0" stroke-width="40.00">100</text><text transform="matrix(0.010563 0 0 0.009439 320.152 163.300)" x="0" y="0" stroke-width="40.00">150</text><text transform="matrix(0.010390 0 0 0.009439 320.730 103.700)" x="0" y="0" stroke-width="40.35">200</text><text transform="matrix(0.010390 0 0 0.009439 320.730 44.100)" x="0" y="0" stroke-width="40.35">250</text><text transform="matrix(0.010068 0 0 0.009439 499.809 386.800)" x="0" y="0" stroke-width="41.01">Detuning (MHz)</text><g transform="translate(310.4,280.4) rotate(-90)"><text transform="matrix(0.010324 0 0 0.009439 -1.734 0.000)" x="0" y="0" stroke-width="40.48">Equilibrium time (ms)</text></g><text transform="matrix(0.010518 0 0 0.009510 437.655 61.500)" x="0" y="0" stroke-width="39.94">With cavity filter</text><text transform="matrix(0.010527 0 0 0.009510 437.655 88.000)" x="0" y="0" stroke-width="39.93">Without cavity filter</text></g>
</svg></body></html>
